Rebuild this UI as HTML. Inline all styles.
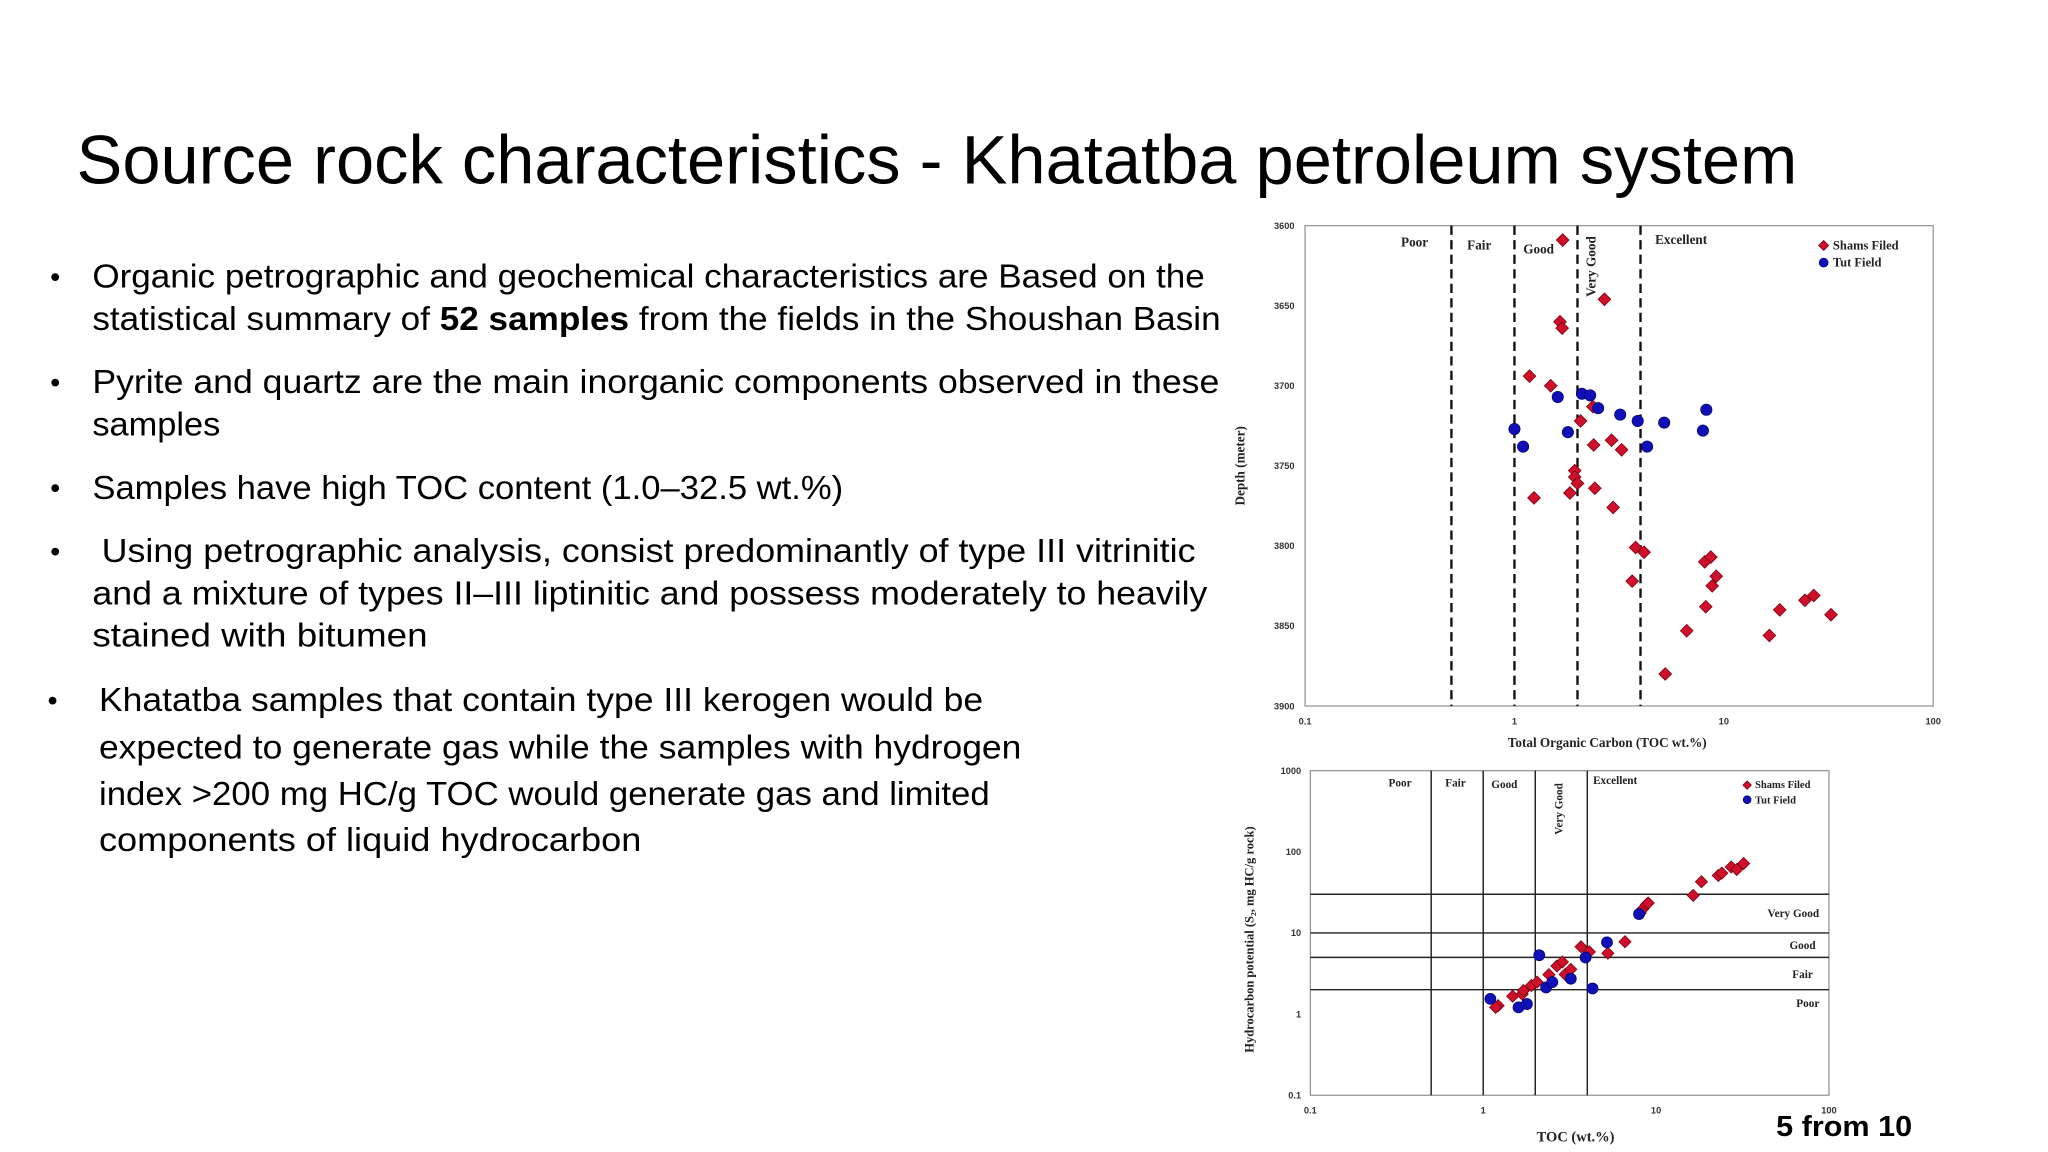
<!DOCTYPE html>
<html><head><meta charset="utf-8">
<style>
html,body{margin:0;padding:0;background:#fff;width:2048px;height:1152px;overflow:hidden}
svg{display:block}
.t{font-family:"Liberation Sans",sans-serif;fill:#000}
.s{font-family:"Liberation Serif",serif;font-weight:bold;fill:#222}
.tk{font-family:"Liberation Sans",sans-serif;font-weight:bold;fill:#333;font-size:7px}
</style></head>
<body>
<svg id="page" width="2048" height="1152" viewBox="0 0 1552 873" preserveAspectRatio="none" xmlns="http://www.w3.org/2000/svg">
<rect width="1552" height="873" fill="#fff"/>
<text class="t" x="58" y="139" font-size="52" textLength="1304" lengthAdjust="spacingAndGlyphs"><tspan>Source rock characteristics - </tspan><tspan font-weight="300">Khatatba petroleum system</tspan></text>

<g class="t" font-size="25">
<text x="38" y="217" font-size="22">•</text>
<text x="70" y="218" textLength="843" lengthAdjust="spacingAndGlyphs">Organic petrographic and geochemical characteristics are Based on the</text>
<text x="70" y="250" textLength="855" lengthAdjust="spacingAndGlyphs">statistical summary of <tspan font-weight="bold">52 samples</tspan> from the fields in the Shoushan Basin</text>
<text x="38" y="297" font-size="22">•</text>
<text x="70" y="298" textLength="854" lengthAdjust="spacingAndGlyphs">Pyrite and quartz are the main inorganic components observed in these</text>
<text x="70" y="330" textLength="97" lengthAdjust="spacingAndGlyphs">samples</text>
<text x="38" y="377" font-size="22">•</text>
<text x="70" y="378" textLength="569" lengthAdjust="spacingAndGlyphs">Samples have high TOC content (1.0–32.5 wt.%)</text>
<text x="38" y="425" font-size="22">•</text>
<text x="77" y="426" textLength="829" lengthAdjust="spacingAndGlyphs">Using petrographic analysis, consist predominantly of type III vitrinitic</text>
<text x="70" y="458" textLength="845" lengthAdjust="spacingAndGlyphs">and a mixture of types II–III liptinitic and possess moderately to heavily</text>
<text x="70" y="490" textLength="254" lengthAdjust="spacingAndGlyphs">stained with bitumen</text>
<text x="36" y="538" font-size="22">•</text>
<text x="75" y="539" textLength="670" lengthAdjust="spacingAndGlyphs">Khatatba samples that contain type III kerogen would be</text>
<text x="75" y="575" textLength="699" lengthAdjust="spacingAndGlyphs">expected to generate gas while the samples with hydrogen</text>
<text x="75" y="610" textLength="675" lengthAdjust="spacingAndGlyphs">index &gt;200 mg HC/g TOC would generate gas and limited</text>
<text x="75" y="645" textLength="411" lengthAdjust="spacingAndGlyphs">components of liquid hydrocarbon</text>
</g>

<g id="chart1"></g>
<g id="chart2"></g>

<text class="t" x="1346" y="861" font-size="22" font-weight="bold" textLength="103" lengthAdjust="spacingAndGlyphs">5 from 10</text>
</svg>
<script>
// Chart 1 data: TOC (wt.%) vs depth (m)
const shams1Toc = [1.70,2.69,1.65,1.69,1.18,1.49,2.37,2.07,2.91,2.39,3.25,1.94,1.94,2.00,2.42,1.84,1.24,2.96,3.79,4.16,8.11,8.67,9.2,3.65,8.8,26.9,24.4,8.2,18.5,32.5,6.65,16.5,5.25];
const shams1Depth = [3609,3646,3660,3664,3694,3700,3713,3722,3734,3737,3740,3753,3757,3761,3764,3767,3770,3776,3801,3804,3810,3807,3819,3822,3825,3831,3834,3838,3840,3843,3853,3856,3880];
const tut1Toc = [1.61,2.10,2.30,2.51,3.2,3.88,5.19,8.25,1.0,1.80,7.95,1.10,4.30];
const tut1Depth = [3707,3705,3706,3714,3718,3722,3723,3715,3727,3729,3728,3738,3738];
const depthTicks = [3600,3650,3700,3750,3800,3850,3900];
const tocTicks = [0.1,1,10,100];
const tocLimits = [0.5,1,2,4];
// Chart 2 data: TOC vs S2
const shams2Toc = [1.22,1.18,1.48,1.68,1.71,1.90,2.05,2.40,2.67,2.87,2.98,3.21,3.68,4.11,5.26,6.61,8.1,8.4,8.8,9.0,16.4,18.3,22.9,24.0,27.2,29.3,32.1];
const shams2S2 = [1.27,1.21,1.66,1.76,1.95,2.25,2.48,3.06,3.92,4.39,3.09,3.56,6.75,5.85,5.63,7.8,17.6,19.9,22.4,23.4,29.0,42.7,51.1,54.6,65,60.6,71.8];
const tut2Toc = [1.10,1.60,1.79,2.11,2.31,2.51,3.21,3.91,4.29,5.20,7.97];
const tut2S2 = [1.54,1.21,1.33,5.32,2.13,2.48,2.73,4.98,2.07,7.65,17.1];
const s2Ticks = [0.1,1,10,100,1000];
const s2Limits = [2,5,10,30];

const NS='http://www.w3.org/2000/svg';
function mk(p,tag,at,txt){const e=document.createElementNS(NS,tag);for(const k in at)e.setAttribute(k,at[k]);if(txt!==undefined)e.textContent=txt;p.appendChild(e);return e;}
function diamond(g,x,y,r){const d=mk(g,'path',{d:`M${x} ${y-r}L${x+r} ${y}L${x} ${y+r}L${x-r} ${y}Z`,fill:'#d0102a',stroke:'#7a0010','stroke-width':0.6});

}
function circ(g,x,y,r){const c=mk(g,'circle',{cx:x,cy:y,r:r,fill:'#1010b8',stroke:'#000060','stroke-width':0.5});

}

// ---- Chart 1 ----
(function(){
const g=document.getElementById('chart1');
const L=989,R=1465,T=171,B=535;
const xs=v=>L+(Math.log10(v)+1)/3*(R-L);
const ys=d=>T+(d-3600)/300*(B-T);
mk(g,'rect',{x:L,y:T,width:R-L,height:B-T,fill:'none',stroke:'#999','stroke-width':1});
tocLimits.forEach(v=>{const l=mk(g,'line',{x1:xs(v),x2:xs(v),y1:T,y2:B,stroke:'#111','stroke-width':1.8,'stroke-dasharray':'7,4'});

});
depthTicks.forEach(d=>{const t=mk(g,'text',{x:L-8,y:ys(d)+2.5,'text-anchor':'end',class:'tk'},d);

});
tocTicks.forEach(v=>{const t=mk(g,'text',{x:xs(v),y:B+14,'text-anchor':'middle',class:'tk'},v);

});
const xt=mk(g,'text',{x:1218,y:566,'text-anchor':'middle',class:'s','font-size':10},'Total Organic Carbon (TOC wt.%)');


const yt=mk(g,'text',{x:0,y:0,'text-anchor':'middle',class:'s','font-size':10,transform:'translate(943,353) rotate(-90)'},'Depth (meter)');


[['Poor',1072,187],['Fair',1121,189],['Good',1166,192],['Excellent',1274,185]].forEach(a=>{const t=mk(g,'text',{x:a[1],y:a[2],'text-anchor':'middle',class:'s','font-size':10},a[0]);

});
const vg=mk(g,'text',{x:0,y:0,'text-anchor':'middle',class:'s','font-size':10,transform:'translate(1209,202) rotate(-90)'},'Very Good');


shams1Toc.forEach((v,i)=>diamond(g,xs(v),ys(shams1Depth[i]),4.8));
tut1Toc.forEach((v,i)=>circ(g,xs(v),ys(tut1Depth[i]),4.3));
diamond(g,1382,186,3.8);circ(g,1382,199,3.4);
const l1=mk(g,'text',{x:1389,y:189,class:'s','font-size':9.5},'Shams Filed');


const l2=mk(g,'text',{x:1389,y:202,class:'s','font-size':9.5},'Tut Field');


})();

// ---- Chart 2 ----
(function(){
const g=document.getElementById('chart2');
const L=993,R=1386,T=584,B=830;
const xs=v=>L+(Math.log10(v)+1)/3*(R-L);
const ys=v=>B-(Math.log10(v)+1)/4*(B-T);
mk(g,'rect',{x:L,y:T,width:R-L,height:B-T,fill:'none',stroke:'#999','stroke-width':1});
tocLimits.forEach(v=>{const l=mk(g,'line',{x1:xs(v),x2:xs(v),y1:T,y2:B,stroke:'#222','stroke-width':1.1});

});
s2Limits.forEach(v=>{const l=mk(g,'line',{x1:L,x2:R,y1:ys(v),y2:ys(v),stroke:'#222','stroke-width':1.1});

});
s2Ticks.forEach(v=>{const t=mk(g,'text',{x:L-7,y:ys(v)+2.5,'text-anchor':'end',class:'tk','font-weight':'normal'},v);

});
tocTicks.forEach(v=>{const t=mk(g,'text',{x:xs(v),y:B+14,'text-anchor':'middle',class:'tk','font-weight':'normal'},v);

});
const xt=mk(g,'text',{x:1194,y:865,'text-anchor':'middle',class:'s','font-size':11},'TOC (wt.%)');


const yt=mk(g,'text',{x:0,y:0,'text-anchor':'middle',class:'s','font-size':9.5,transform:'translate(950,712) rotate(-90)'},'Hydrocarbon potential (S\u2082, mg HC/g rock)');


[['Poor',1061,596],['Fair',1103,596],['Good',1140,597],['Excellent',1224,594],['Very Good',1359,695],['Good',1366,719],['Fair',1366,741],['Poor',1370,763]].forEach(a=>{const t=mk(g,'text',{x:a[1],y:a[2],'text-anchor':'middle',class:'s','font-size':8.5},a[0]);

});
const vg=mk(g,'text',{x:0,y:0,'text-anchor':'middle',class:'s','font-size':8.5,transform:'translate(1184,613) rotate(-90)'},'Very Good');


shams2Toc.forEach((v,i)=>diamond(g,xs(v),ys(shams2S2[i]),4.6));
tut2Toc.forEach((v,i)=>circ(g,xs(v),ys(tut2S2[i]),4.2));
diamond(g,1324,595,3.2);circ(g,1324,606,3);
const l1=mk(g,'text',{x:1330,y:597,class:'s','font-size':8},'Shams Filed');


const l2=mk(g,'text',{x:1330,y:609,class:'s','font-size':8},'Tut Field');


})();
</script>
</body></html>
